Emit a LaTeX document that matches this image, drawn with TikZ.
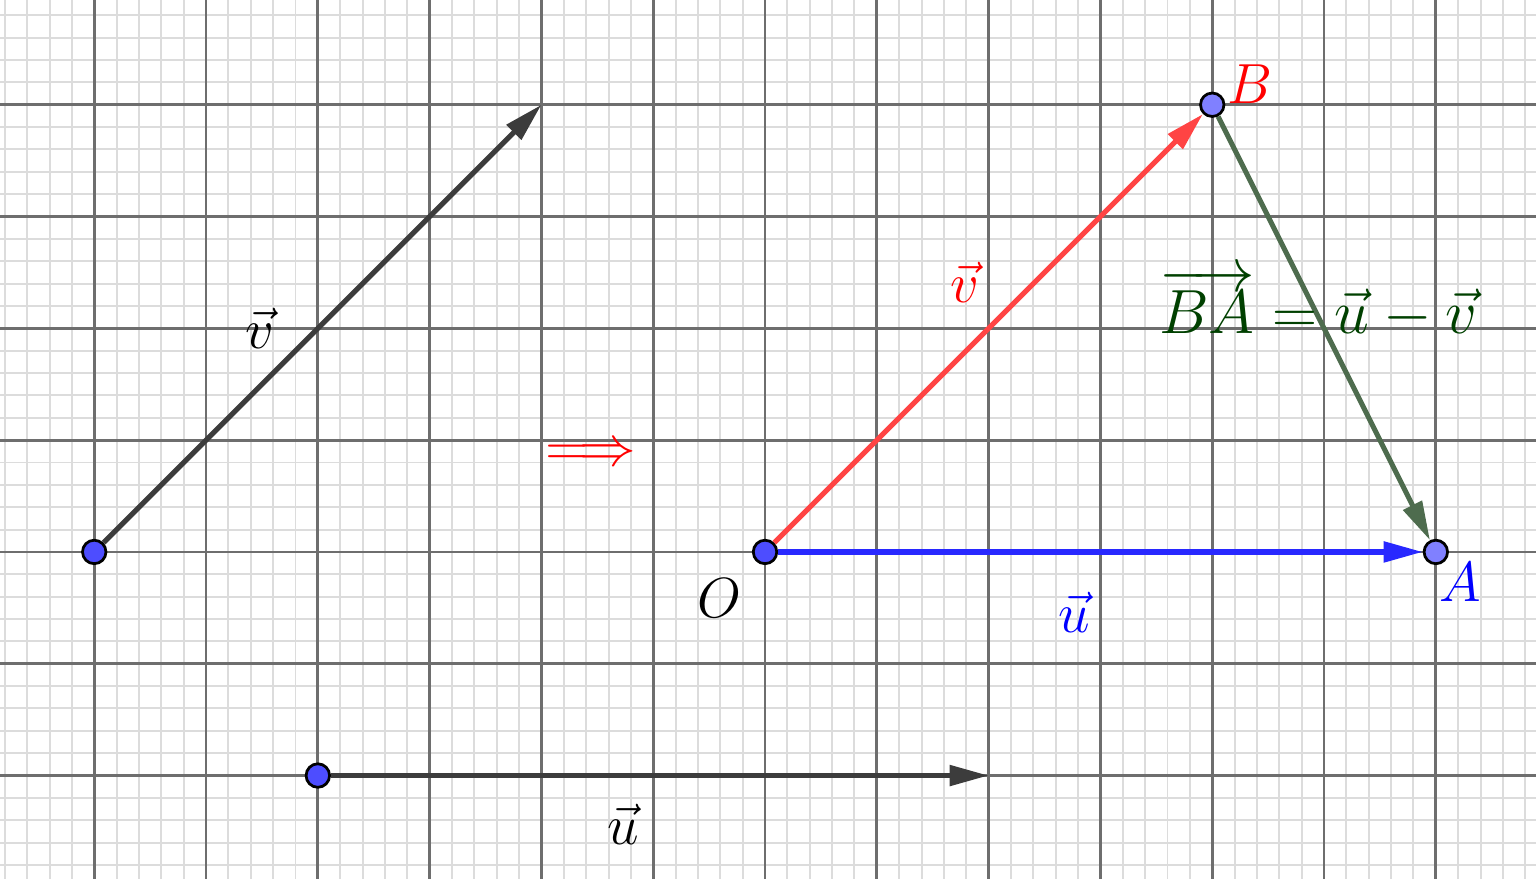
\documentclass[tikz,border=0pt]{standalone}
\usepackage{graphicx}
\usepackage{amsmath,amssymb}
\usetikzlibrary{arrows.meta}
\definecolor{ptblue}{RGB}{77,77,255}
\definecolor{ptlight}{RGB}{128,128,255}
\definecolor{vecred}{RGB}{255,68,68}
\definecolor{vecblue}{RGB}{40,40,255}
\definecolor{vecgreen}{RGB}{78,108,78}
\definecolor{txtgreen}{RGB}{0,64,0}
\definecolor{vecgray}{RGB}{60,60,60}
\definecolor{majgrid}{RGB}{110,110,110}
\definecolor{mingrid}{RGB}{220,220,220}

\begin{document}
\begin{tikzpicture}[
  vec/.style={line width=1.3pt,-{Triangle[length=0.35cm,width=0.18cm]}},
  pt/.style={circle,draw=black,line width=0.7pt,fill=ptblue,inner sep=0pt,minimum size=0.21cm},
  lbl/.style={font=\fontsize{14.4}{17}\selectfont}]
%
\useasboundingbox (-6.843,-2.925) rectangle (6.896,4.937);
\clip (-6.843,-2.925) rectangle (6.896,4.937);
\draw[mingrid,line width=0.5pt] (-7,-3) grid[step=0.2] (7,5);
\draw[majgrid,line width=0.7pt] (-7,-3) grid (7,5);
%
\node[pt] (P) at (-6,0) {};
\node[pt] (Q) at (-4,-2) {};
\coordinate (Pend) at (-2,4);
\coordinate (Qend) at (2,-2);
\draw[vec,vecgray] (P) -- (Pend);
\draw[vec,vecgray] (Q) -- (Qend);
%
\node[pt] (O) at (0,0) {};
\node[pt,fill=ptlight] (A) at (6,0) {};
\node[pt,fill=ptlight] (B) at (4,4) {};
\draw[vec,vecred] (O) -- (B);
\draw[vec,vecblue] (O) -- (A);
\draw[vec,vecgreen] (B) -- (A);
%
\node[lbl] (lv) at (-4.52,2.0) {$\vec{v}$};
\node[lbl] (lu) at (-1.27,-2.44) {$\vec{u}$};
\node[lbl,red] (impl) at (-1.56,0.87) {$\Longrightarrow$};
\node[lbl,red] (lvO) at (1.79,2.41) {$\vec{v}$};
\node[lbl,blue] (luO) at (2.77,-0.54) {$\vec{u}$};
\node[lbl] (lO) at (-0.41,-0.41) {$O$};
\node[lbl,red] (lB) at (4.34,4.18) {$B$};
\node[lbl,blue] (lA) at (6.22,-0.27) {$A$};
\node[font=\fontsize{17.28}{20}\selectfont,txtgreen] (lBA) at (4.95,2.22)
  {\scalebox{0.92}{$\overrightarrow{BA}=\vec{u}-\vec{v}$}};
\end{tikzpicture}
\end{document}
